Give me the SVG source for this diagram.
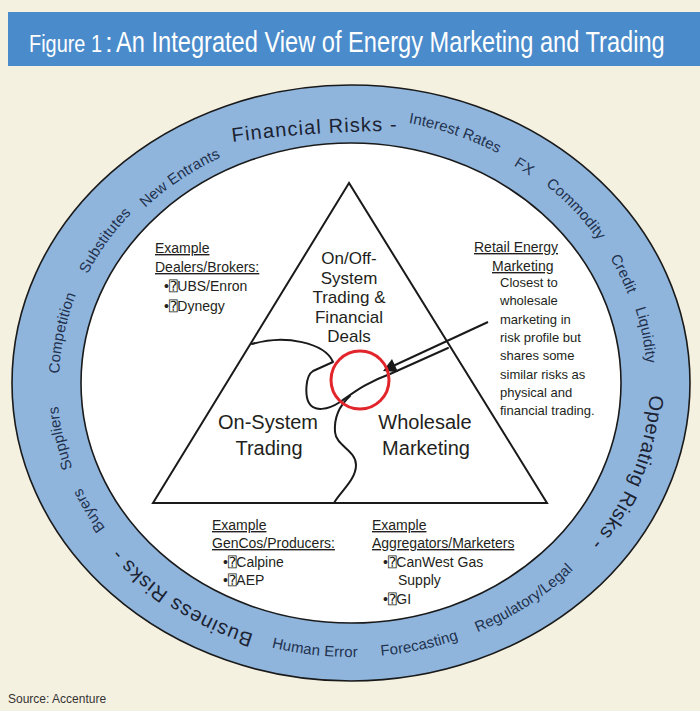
<svg xmlns="http://www.w3.org/2000/svg" width="700" height="711" viewBox="0 0 700 711">
<style>
.ring{font-family:"Liberation Sans",Arial,sans-serif;font-size:15px;fill:#22314d;letter-spacing:0.1px}
.big{font-family:"Liberation Sans",Arial,sans-serif;font-size:20px;fill:#1c2333;letter-spacing:0.9px}
.lbl{font-family:"Liberation Sans",Arial,sans-serif;fill:#231f20;text-anchor:middle}
.ex{font-family:"Liberation Sans","DejaVu Sans","DejaVu Sans Mono",sans-serif;font-size:14px;fill:#231f20}
.u{text-decoration:underline}
.para{font-family:"Liberation Sans",Arial,sans-serif;font-size:13px;fill:#231f20}
.ttl{font-family:"Liberation Sans",Arial,sans-serif;fill:#fff}
.line{fill:none;stroke:#1a1a1a;stroke-width:2;stroke-linejoin:round;stroke-linecap:round}
</style>
<defs>
<path id="pFin" d="M200,146.9 A1269,1269 0 0,1 480,133.5"/>
<path id="pInt" d="M304.9,121.3 A295,265 0 0,1 580.2,216.2"/>
<path id="pFX" d="M384.1,122.7 A292,262 0 0,1 618.8,278.5"/>
<path id="pCom" d="M452.0,135.1 A294,264 0 0,1 640.6,337.6"/>
<path id="pCre" d="M526.3,171.1 A294,264 0 0,1 643.1,413.3"/>
<path id="pLiq" d="M577.7,212.0 A296,266 0 0,1 629.2,474.0"/>
<path id="pOpe" d="M630.1,286.6 A299,269 0 0,1 505.0,613.6"/>
<path id="pNew" d="M88.6,285.8 A284,254 0 0,1 313.9,131.2"/>
<path id="pSub" d="M61.2,373.5 A290,260 0 0,1 215.3,153.2"/>
<path id="pCmp" d="M75.6,470.0 A292,262 0 0,1 129.3,212.5"/>
<path id="pSup" d="M131.1,558.3 A294,264 0 0,1 72.0,299.7"/>
<path id="pBuy" d="M193.9,606.2 A294,264 0 0,1 57.2,372.4"/>
<path id="pBus" d="M369.6,648.5 A296,266 0 0,1 63.3,445.5"/>
<path id="pHum" d="M167.6,601.5 A304,274 0 0,0 469.3,635.4"/>
<path id="pFor" d="M264.7,645.7 A304,274 0 0,0 560.3,581.8"/>
<path id="pReg" d="M384.9,655.3 A304,274 0 0,0 629.6,492.7"/>
</defs>
<rect width="700" height="711" fill="#f5f1e1"/>
<g id="title">
<rect x="8" y="12" width="692" height="54" fill="#4a8bcb"/>
<text class="ttl" transform="translate(29,52) scale(0.83,1)" font-size="24">Figure 1</text>
<text class="ttl" x="105" y="52" font-size="28">:</text>
<text class="ttl" transform="translate(116,52) scale(0.788,1)" font-size="30">An Integrated View of Energy Marketing and Trading</text>
</g>
<g id="ring">
<ellipse cx="351" cy="383" rx="339" ry="298" fill="#8fb5dd" stroke="#1a1a1a" stroke-width="1.6"/>
<ellipse cx="351" cy="383" rx="270" ry="240" fill="#fff" stroke="#1a1a1a" stroke-width="1.6"/>
<text class="big" style="letter-spacing:1.1px"><textPath href="#pFin" startOffset="33">Financial Risks -</textPath></text>
<text class="ring" text-anchor="middle"><textPath href="#pInt" startOffset="50%">Interest Rates</textPath></text>
<text class="ring" text-anchor="middle"><textPath href="#pFX" startOffset="50%">FX</textPath></text>
<text class="ring" text-anchor="middle"><textPath href="#pCom" startOffset="50%">Commodity</textPath></text>
<text class="ring" text-anchor="middle"><textPath href="#pCre" startOffset="50%">Credit</textPath></text>
<text class="ring" text-anchor="middle"><textPath href="#pLiq" startOffset="50%">Liquidity</textPath></text>
<text class="big" text-anchor="middle" style="letter-spacing:0.5px"><textPath href="#pOpe" startOffset="50%">Operating Risks -</textPath></text>
<text class="ring" text-anchor="middle"><textPath href="#pNew" startOffset="50%">New Entrants</textPath></text>
<text class="ring" text-anchor="middle"><textPath href="#pSub" startOffset="50%">Substitutes</textPath></text>
<text class="ring" text-anchor="middle"><textPath href="#pCmp" startOffset="50%">Competition</textPath></text>
<text class="ring" text-anchor="middle"><textPath href="#pSup" startOffset="50%">Suppliers</textPath></text>
<text class="ring" text-anchor="middle"><textPath href="#pBuy" startOffset="50%">Buyers</textPath></text>
<text class="big" text-anchor="middle"><textPath href="#pBus" startOffset="50%">Business Risks -</textPath></text>
<text class="ring" text-anchor="middle"><textPath href="#pHum" startOffset="50%">Human Error</textPath></text>
<text class="ring" text-anchor="middle"><textPath href="#pFor" startOffset="50%">Forecasting</textPath></text>
<text class="ring" text-anchor="middle"><textPath href="#pReg" startOffset="50%">Regulatory/Legal</textPath></text>
</g>
<g id="triangle">
<polygon points="349,183 153,503 547,503" fill="none" stroke="#1a1a1a" stroke-width="2"/>
<path class="line" d="M252,344 C285,334 325,343 333,362 L313,371 C305,376 305,396 309,403 C314,412 328,410 340,402 C352,394 365,383 390,374 L448,348"/>
<path class="line" d="M350,396 C340,405 334,418 335,432 C336,446 356,450 356,465 C356,480 340,492 334,503"/>
</g>
<g id="top-region">
<text class="lbl" font-size="17"><tspan x="349" y="264">On/Off-</tspan><tspan x="349" y="283.5">System</tspan><tspan x="349" y="303">Trading &amp;</tspan><tspan x="349" y="322.5">Financial</tspan><tspan x="349" y="342">Deals</tspan></text>
</g>
<g id="on-system">
<text class="lbl" font-size="20"><tspan x="268" y="429">On-System</tspan><tspan x="269" y="455">Trading</tspan></text>
</g>
<g id="wholesale">
<text class="lbl" font-size="20"><tspan x="425" y="429">Wholesale</tspan><tspan x="426" y="455">Marketing</tspan></text>
</g>
<g id="dealers">
<text class="ex u" x="155" y="253">Example</text>
<text class="ex u" x="155" y="272">Dealers/Brokers:</text>
<text class="ex" x="164" y="291">•⍰UBS/Enron</text>
<text class="ex" x="164" y="311">•⍰Dynegy</text>
</g>
<g id="retail">
<text class="ex u" x="474" y="252">Retail Energy</text>
<text class="ex u" x="492" y="271">Marketing</text>
<text class="para"><tspan x="500" y="287">Closest to</tspan><tspan x="500" y="305.3">wholesale</tspan><tspan x="500" y="323.6">marketing in</tspan><tspan x="500" y="341.9">risk profile but</tspan><tspan x="500" y="360.2">shares some</tspan><tspan x="500" y="378.5">similar risks as</tspan><tspan x="500" y="396.8">physical and</tspan><tspan x="500" y="415.1">financial trading.</tspan></text>
</g>
<g id="gencos">
<text class="ex u" x="212" y="530">Example</text>
<text class="ex u" x="212" y="548">GenCos/Producers:</text>
<text class="ex" x="223" y="567">•⍰Calpine</text>
<text class="ex" x="223" y="585">•⍰AEP</text>
</g>
<g id="aggregators">
<text class="ex u" x="372" y="530">Example</text>
<text class="ex u" x="372" y="548">Aggregators/Marketers</text>
<text class="ex" x="383" y="567">•⍰CanWest Gas</text>
<text class="ex" x="398" y="585">Supply</text>
<text class="ex" x="383" y="604">•⍰GI</text>
</g>
<g id="connectors">
<line x1="488" y1="322" x2="393" y2="366" stroke="#1a1a1a" stroke-width="2"/>
<polygon points="383,371 392,359 398,372" fill="#1a1a1a"/>
</g>
<g id="highlight">
<circle cx="360" cy="380" r="29" fill="none" stroke="#e2252b" stroke-width="3"/>
</g>
<text x="8" y="703" font-family="Liberation Sans,Arial,sans-serif" font-size="12" fill="#333">Source: Accenture</text>
</svg>
